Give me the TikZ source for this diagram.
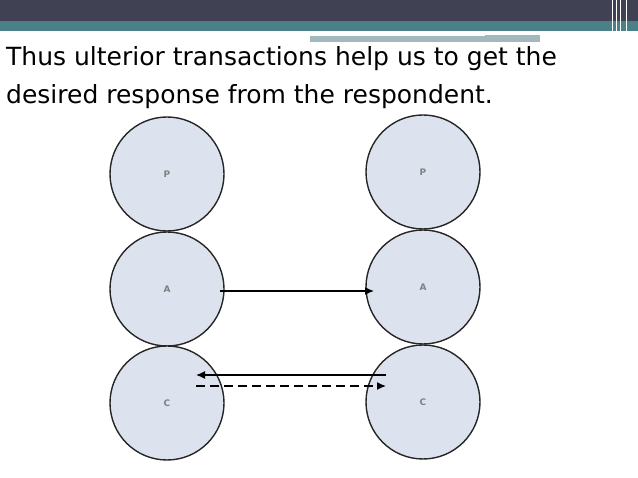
\documentclass[tikz,border=0pt]{standalone}
\usepackage{fontspec}
\setmainfont{DejaVu Sans}
\usetikzlibrary{arrows.meta}
\definecolor{barc}{HTML}{404254}
\definecolor{tealc}{HTML}{4A8088}
\definecolor{greyb}{HTML}{A3B8BC}
\definecolor{circf}{HTML}{DDE3EE}
\begin{document}
\begin{tikzpicture}[x=1pt,y=-1pt,
  ego/.style={circle,draw=black!85,line width=1.4pt,fill=circf,minimum size=114pt,inner sep=0pt,font=\fontsize{9}{10}\selectfont\bfseries,text=black!50},
  arr/.style={line width=1.4pt,-{Latex[length=9pt,width=8pt]}}]
\useasboundingbox (0,0) rectangle (638,478);
\fill[white] (0,0) rectangle (638,478);
\fill[barc] (0,0) rectangle (638,21);
\fill[tealc] (0,21) rectangle (638,31);
\fill[greyb] (310,35) rectangle (540,42);
\draw[white,line width=0.8pt] (310,35) -- (485,35);
\foreach \x in {612,616,620,626} \draw[white,line width=0.7pt] (\x,0) -- (\x,40);
\node[anchor=west,font=\fontsize{25}{38}\selectfont,align=left,inner sep=0pt] (title) at (6,78) {Thus ulterior transactions help us to get the\\desired response from the respondent.};
\node[ego] (p1) at (167,174) {P};
\node[ego] (a1) at (167,289) {A};
\node[ego] (c1) at (167,403) {C};
\node[ego] (p2) at (423,172) {P};
\node[ego] (a2) at (423,287) {A};
\node[ego] (c2) at (423,402) {C};
\coordinate (as) at (220,291); \coordinate (ae) at (374,291);
\draw[arr] (as) -- (ae);
\coordinate (cs) at (386,375); \coordinate (ce) at (196,375);
\draw[arr] (cs) -- (ce);
\coordinate (ds) at (196,386); \coordinate (de) at (386,386);
\draw[arr,dash pattern=on 9pt off 5pt] (ds) -- (de);
\end{tikzpicture}
\end{document}
